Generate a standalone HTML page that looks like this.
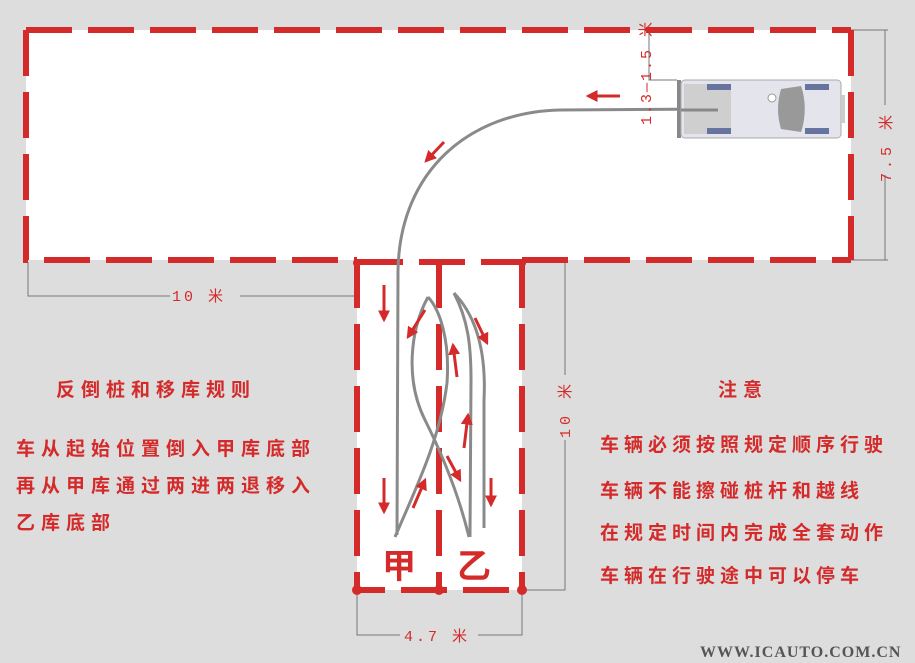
<!DOCTYPE html>
<html><head><meta charset="utf-8"><style>
html,body{margin:0;padding:0;background:#dddddd;}
svg{display:block}
.t{font-family:"Liberation Sans","Noto Sans CJK SC",sans-serif;font-weight:bold;fill:#d42a2a;font-size:19px;letter-spacing:6px}
.d{font-family:"Liberation Mono","Noto Sans CJK SC",monospace;fill:#d42a2a;font-size:15px}
</style></head><body>
<svg width="915" height="663" viewBox="0 0 915 663" xmlns="http://www.w3.org/2000/svg">
<defs>
<marker id="ah" viewBox="0 0 10 10" refX="8" refY="5" markerWidth="4" markerHeight="4" orient="auto"><path d="M0,0 L10,5 L0,10 Z" fill="#d42a2a"/></marker>
</defs>
<rect width="915" height="663" fill="#dddddd"/>
<rect x="26" y="30" width="825" height="230" fill="#fff"/>
<rect x="357" y="260" width="165" height="330" fill="#fff"/>
<g stroke="#777" stroke-width="1" fill="none">
<path d="M28 262 V296 H170 M240 296 H355 V262"/>
<path d="M851 30 H888 M851 260 H888 M885 30 V105 M885 175 V260"/>
<path d="M522 262 H565 V375 M565 440 V590 H522"/>
<path d="M357 590 V635 H400 M478 635 H522 V590"/>
<path d="M648 30 H685 M649 30 V80 H677"/>
</g>
<g stroke="#d42a2a" stroke-width="6" fill="none" stroke-dasharray="46 16">
<path d="M26 30 H851"/>
<path d="M851 30 V260"/>
<path d="M26 30 V260 H357"/>
<path d="M522 260 H851"/>
<path d="M357 262 V590 H522"/>
<path d="M439 262 V590"/>
<path d="M522 262 V590"/>
<path d="M357 262 H522"/>
</g>
<g fill="#d42a2a">
<circle cx="357" cy="590" r="5"/><circle cx="439" cy="590" r="5"/><circle cx="522" cy="590" r="5"/>
<circle cx="357" cy="263" r="4"/><circle cx="439" cy="263" r="4"/><circle cx="522" cy="263" r="4"/>
</g>
<g stroke="#8a8a8a" stroke-width="3" fill="none">
<path d="M715 109 L560 110 C470 112 400 170 398 270 L397 535"/>
<path d="M395 537 C415 490 440 440 447 383 C450 340 440 310 428 297"/>
<path d="M428 297 C410 330 405 380 425 420 C445 460 460 500 469 537"/>
<path d="M454 293 C480 320 486 360 484 400 L484 528"/>
<path d="M454 293 C468 320 471 345 471 380 L470 537"/>
</g>
<g stroke="#d42a2a" stroke-width="3" marker-end="url(#ah)">
<line x1="384" y1="285" x2="384" y2="320"/>
<line x1="384" y1="478" x2="384" y2="512"/>
<line x1="425" y1="310" x2="408" y2="337"/>
<line x1="475" y1="318" x2="487" y2="343"/>
<line x1="457" y1="377" x2="453" y2="345"/>
<line x1="464" y1="448" x2="468" y2="415"/>
<line x1="413" y1="508" x2="425" y2="480"/>
<line x1="447" y1="456" x2="460" y2="480"/>
<line x1="491" y1="478" x2="491" y2="505"/>
<line x1="444" y1="142" x2="426" y2="161"/>
<line x1="620" y1="96" x2="588" y2="96"/>
</g>
<g>
<rect x="677" y="80" width="4" height="58" fill="#888"/>
<rect x="681" y="80" width="160" height="58" rx="4" fill="#e4e4ec" stroke="#aaa"/>
<rect x="684" y="84" width="47" height="50" fill="#cfcfcf"/>
<rect x="707" y="84" width="24" height="6" fill="#6874a0"/>
<rect x="707" y="128" width="24" height="6" fill="#6874a0"/>
<rect x="805" y="84" width="24" height="6" fill="#6874a0"/>
<rect x="805" y="128" width="24" height="6" fill="#6874a0"/>
<path d="M781 89 L801 86 C806 100 806 118 801 132 L781 129 C777 115 777 103 781 89Z" fill="#999"/>
<rect x="841" y="95" width="4" height="28" fill="#ccc"/>
<circle cx="772" cy="98" r="4" fill="#fff" stroke="#999"/>
<line x1="681" y1="110" x2="718" y2="110" stroke="#888" stroke-width="3"/>
</g>
<text class="d" x="172" y="301" letter-spacing="3">10 米</text>
<g transform="translate(891,140) rotate(-90)"><text class="d" x="-42" y="0" letter-spacing="4">7.5 米</text></g>
<g transform="translate(570,408) rotate(-90)"><text class="d" x="-30" y="0" letter-spacing="4">10 米</text></g>
<text class="d" x="404" y="641" letter-spacing="3">4.7 米</text>
<g transform="translate(651,70) rotate(-90)"><text class="d" x="-55" y="0" letter-spacing="2">1.3—1.5 米</text></g>
<text x="382" y="578" style="font-family:'Noto Sans CJK SC',sans-serif;font-weight:bold;font-size:34px;fill:#d42a2a">甲</text>
<text x="457" y="578" style="font-family:'Noto Sans CJK SC',sans-serif;font-weight:bold;font-size:34px;fill:#d42a2a">乙</text>
<text class="t" x="56" y="396">反倒桩和移库规则</text>
<text class="t" x="16" y="455">车从起始位置倒入甲库底部</text>
<text class="t" x="16" y="492">再从甲库通过两进两退移入</text>
<text class="t" x="16" y="529">乙库底部</text>
<text class="t" x="718" y="396">注意</text>
<text class="t" x="600" y="451" style="letter-spacing:5px">车辆必须按照规定顺序行驶</text>
<text class="t" x="600" y="497" style="letter-spacing:5px">车辆不能擦碰桩杆和越线</text>
<text class="t" x="600" y="539" style="letter-spacing:5px">在规定时间内完成全套动作</text>
<text class="t" x="600" y="582" style="letter-spacing:5px">车辆在行驶途中可以停车</text>
<text x="700" y="657" style="font-family:'Liberation Serif',serif;font-weight:bold;font-size:16px;fill:#555;letter-spacing:1px">WWW.ICAUTO.COM.CN</text>
</svg>
</body></html>
